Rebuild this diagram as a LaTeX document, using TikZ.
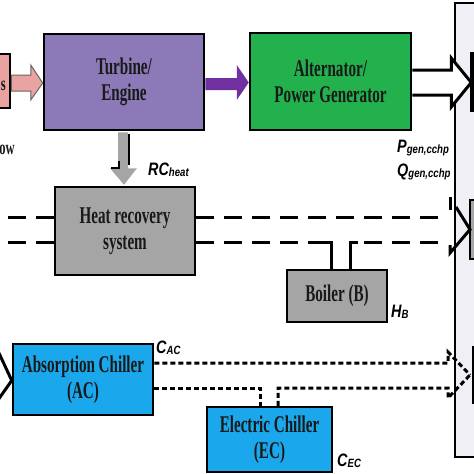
\documentclass[tikz,border=0pt]{standalone}
\usepackage{fontspec}
\usetikzlibrary{calc}
\newfontfamily\boxfont{Liberation Serif}[FakeStretch=0.63]
\newfontfamily\labfont{Liberation Sans}[FakeStretch=0.8]
\definecolor{cpink}{HTML}{E9A3A0}
\definecolor{cturb}{HTML}{8C7AB8}
\definecolor{cpurp}{HTML}{7030A0}
\definecolor{cgreen}{HTML}{22B14C}
\definecolor{cgray}{HTML}{A5A5A5}
\definecolor{cblue}{HTML}{1AA7EC}
\definecolor{cpanel}{HTML}{F0EFF5}
\newcommand\lsub[1]{{\fontsize{12}{12}\selectfont\raisebox{-1.5pt}{#1}}}
\begin{document}
\begin{tikzpicture}[x=1pt,y=-1pt,
  box/.style={draw=black, line width=2.5pt, align=center, inner sep=0pt,
    font=\boxfont\bfseries\fontsize{24}{26}\selectfont, text=black!90},
  txt/.style={inner sep=0pt, font=\boxfont\bfseries\fontsize{20}{20}\selectfont, text=black!90},
  lab/.style={inner sep=0pt, anchor=base west, font=\labfont\bfseries\itshape\fontsize{18}{18}\selectfont},
  heat/.style={line width=3pt, dash pattern=on 18pt off 10pt},
  solidl/.style={line width=3pt},
  dotline/.style={line width=3pt, dash pattern=on 5pt off 3pt}]
\useasboundingbox (0,0) rectangle (474,474);
% right panel and inner bars
\node[draw=black, line width=2.5pt, fill=cpanel, minimum width=40pt, minimum height=454pt, inner sep=0pt] (panel) at (475,230) {};
\node[fill=black, minimum width=16pt, minimum height=60pt, inner sep=0pt] (bar1) at (478,82) {};
\node[draw=black, line width=2pt, fill=gray!70, minimum width=16pt, minimum height=59pt, inner sep=0pt] (bar2) at (478,229.5) {};
\node[fill=black, minimum width=16pt, minimum height=58pt, inner sep=0pt] (bar3) at (480,375) {};
% boxes
\node[box, fill=cpink, minimum width=24pt, minimum height=54pt] (fuel) at (-2,81) {};
\node[txt, anchor=base east] (fs) at (6,90) {s};
\node[txt, anchor=base east] (flow) at (15,154) {ow};
\node[box, fill=cturb, minimum width=160pt, minimum height=96pt] (turb) at (124,82) {Turbine/\\Engine};
\node[box, fill=cgreen, minimum width=161pt, minimum height=97pt] (alt) at (330.5,81.5) {Alternator/\\Power Generator};
\node[box, fill=cgray, minimum width=140pt, minimum height=88pt] (hr) at (125,231) {Heat recovery\\system};
\node[box, fill=cgray, minimum width=100pt, minimum height=52pt] (boiler) at (337,296) {Boiler (B)};
\node[box, fill=cblue, minimum width=140pt, minimum height=71pt] (ac) at (83,379.5) {Absorption Chiller\\(AC)};
\node[box, fill=cblue, minimum width=125pt, minimum height=65pt] (ec) at (269.5,439.5) {Electric Chiller\\(EC)};
% pink arrow
\draw[line width=1pt, draw=black!60, fill=cpink]
  ($(fuel.east |- turb.west)+(0,-7)$) -- ($(turb.west)+(-12,-7)$) -- ($(turb.west)+(-12,-17)$)
  -- ($(turb.west)+(0,1)$) -- ($(turb.west)+(-12,18)$) -- ($(turb.west)+(-12,9)$)
  -- ($(fuel.east |- turb.west)+(0,9)$) -- cycle;
% purple arrow
\fill[cpurp]
  ($(turb.east |- alt.west)+(0,-3.5)$) -- ($(alt.west)+(-12,-3.5)$) -- ($(alt.west)+(-12,-16.5)$)
  -- ($(alt.west)+(0,1)$) -- ($(alt.west)+(-12,18.5)$) -- ($(alt.west)+(-12,8.5)$)
  -- ($(turb.east |- alt.west)+(0,8.5)$) -- cycle;
% white double arrow
\draw[line width=3pt, fill=white]
  ($(alt.east)+(0,-11.5)$) -- ($(alt.east)+(39,-11.5)$) -- ($(alt.east)+(39,-23.5)$)
  -- ($(alt.east)+(59,1)$) -- ($(alt.east)+(39,25.5)$) -- ($(alt.east)+(39,13.5)$)
  -- ($(alt.east)+(0,13.5)$);
% gray RC arrow
\fill[cgray] ($(turb.south)+(-6,1)$) -- ($(turb.south)+(4,1)$) -- ($(turb.south)+(4,37)$)
  -- ($(turb.south)+(13,37)$) -- ($(turb.south |- hr.north)+(0,-1)$) -- ($(turb.south)+(-14,37)$)
  -- ($(turb.south)+(-6,37)$) -- cycle;
\draw[line width=2pt] ($(turb.south)+(5,3)$) -- ($(turb.south)+(5,34)$);
\draw[line width=2pt] ($(turb.south)+(-5,30)$) -- ($(turb.south)+(-5,37)$) -- ($(turb.south)+(-13,37)$);
% heat dashed lines
\coordinate (hl1) at (0,217);
\coordinate (hl2) at (0,242);
\coordinate (ht1) at (444,217);
\coordinate (hk1) at (450,197);
\coordinate (hk2) at (450,210);
\coordinate (hd1) at (456,207);
\coordinate (htip) at (470,229.5);
\coordinate (hd2) at (450,253);
\coordinate (hk3) at (450,245);
\coordinate (hb1) at (444,242);
\coordinate (bp1) at ($(boiler.north)+(-6,0)$);
\coordinate (bp2) at ($(boiler.north)+(13,0)$);
\draw[heat] ($(hr.west)+(0,-14)$) -- (hl1);
\draw[heat] ($(hr.west)+(0,11)$) -- (hl2);
\draw[heat] ($(hr.east)+(0,-14)$) -- (ht1);
\draw[solidl] (hk1) -- (hk2);
\draw[solidl, line join=miter] (hd1) -- (htip) -- (hd2) -- (hk3);
\draw[heat] ($(hr.east)+(0,11)$) -- (bp1 |- hl2);
\draw[solidl] ($(bp1 |- hl2)+(-8,0)$) -- (bp1 |- hl2) -- (bp1);
\draw[solidl] (bp2) -- (bp2 |- hl2) -- ++(8,0);
\draw[heat] ($(bp2 |- hl2)+(14,0)$) -- (hb1);
% cooling dotted lines
\coordinate (dt1) at (448,363);
\coordinate (dt2) at (448,352);
\coordinate (dtip) at (470,375);
\coordinate (db1) at (448,388);
\coordinate (db2) at (448,398);
\draw[dotline] ($(ac.east)+(0,-16.5)$) -- (dt1) -- (dt2) -- (dtip);
\draw[dotline] ($(ac.east)+(0,8.5)$) -| ($(ec.north)+(-9.5,0)$);
\draw[dotline] ($(ec.north)+(8.5,0)$) |- (db1) -- (db2) -- (dtip);
% chevron into AC
\coordinate (ch1) at (-2,351);
\coordinate (ch2) at (-2,400);
\draw[line width=3pt] (ch1) -- ($(ac.west)+(0,1)$) -- (ch2);
% labels
\node[lab] (rc) at (148,175) {RC\lsub{heat}};
\node[lab] (pg) at (397,152) {P\lsub{gen,cchp}};
\node[lab] (qg) at (397,176) {Q\lsub{gen,cchp}};
\node[lab] (cac) at (156,353) {C\lsub{AC}};
\node[lab] (hb) at (391,317) {H\lsub{B}};
\node[lab] (cec) at (337,466) {C\lsub{EC}};
\end{tikzpicture}
\end{document}
